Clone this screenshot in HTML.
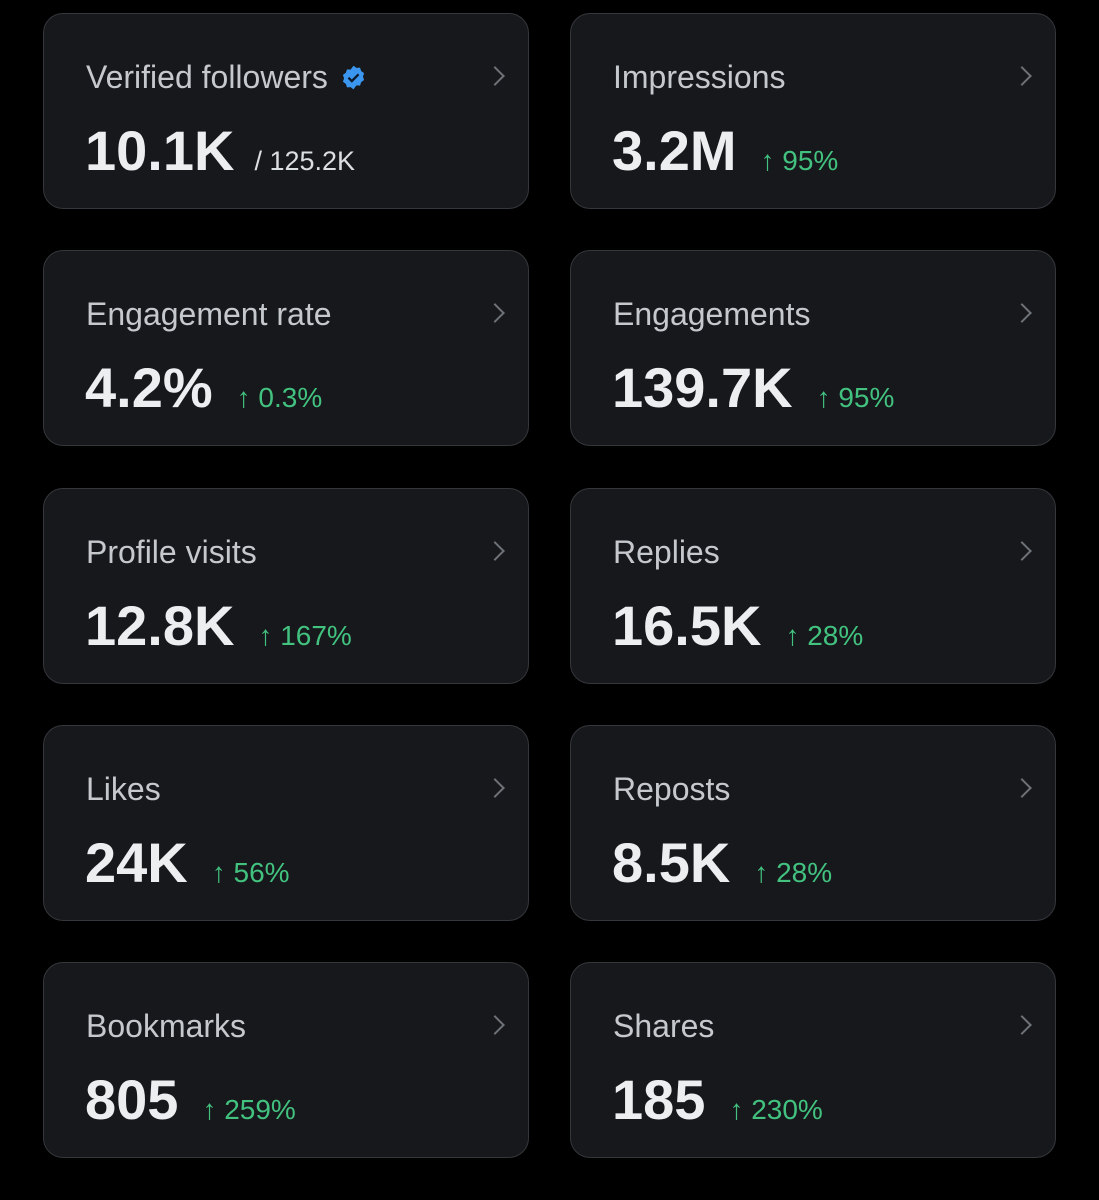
<!DOCTYPE html>
<html><head><meta charset="utf-8">
<style>
body{margin:0;width:1099px;height:1200px;background:#000;font-family:"Liberation Sans",sans-serif;position:relative;overflow:hidden}
.card{position:absolute;width:486px;height:196px;background:#16181c;border:1.5px solid #34373b;border-radius:20px;box-sizing:border-box}
.t{position:absolute;left:42px;top:47px;font-size:32px;color:#c5c8cc;white-space:nowrap;line-height:1}
.chev{position:absolute;right:26px;top:55px;width:12px;height:12px;border-right:2px solid #6e7378;border-top:2px solid #6e7378;transform:rotate(45deg)}
.v{position:absolute;left:41px;top:109px;white-space:nowrap;line-height:1}
.n{font-size:56px;font-weight:bold;color:#eceef0}
.s{font-size:27px;color:#dcdfe2;margin-left:20px}
.g{font-size:28px;color:#42c17f;margin-left:24px}
.badge{display:inline-block;vertical-align:-3px;margin-left:12px}
</style></head><body>
<div id="root"></div>
<script>
const titles=["Verified followers","Impressions","Engagement rate","Engagements","Profile visits","Replies","Likes","Reposts","Bookmarks","Shares"];
const values=["10.1K","3.2M","4.2%","139.7K","12.8K","16.5K","24K","8.5K","805","185"];
const changes=["/ 125.2K","95%","0.3%","95%","167%","28%","56%","28%","259%","230%"];
const root=document.getElementById('root');
titles.forEach((t,i)=>{
  const c=document.createElement('div');
  c.className='card';
  
  
  c.style.left=(i%2?570:43)+'px';
  c.style.top=(13+Math.floor(i/2)*237.3)+'px';
  const badge=i===0?'<svg class="badge" width="27" height="27" viewBox="0 0 24 24"><path d="M12 1.5l2.6 1.9 3.2-.2 1 3 2.6 1.9-1 3.1 1 3-2.6 1.9-1 3.1-3.2-.2L12 22.5l-2.6-1.9-3.2.2-1-3.1-2.6-1.9 1-3-1-3.1 2.6-1.9 1-3 3.2.2z" fill="#3b96f0"/><path d="M7.5 12.2l3 3 6-6" stroke="#0c1a2a" stroke-width="2" fill="none"/></svg>':'';
  const ch=i===0?'<span class="s">'+changes[i]+'</span>':'<span class="g">↑ '+changes[i]+'</span>';
  c.innerHTML='<div class="t">'+t+badge+'</div><div class="chev"></div><div class="v"><span class="n">'+values[i]+'</span>'+ch+'</div>';
  root.appendChild(c);
});
</script>
</body></html>
